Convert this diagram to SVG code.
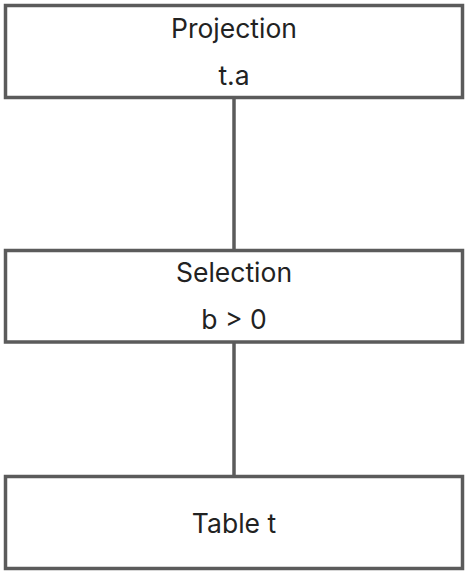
<svg xmlns="http://www.w3.org/2000/svg" width="472" height="576" viewBox="0 0 472 576">
<style>
.box{fill:#ffffff;stroke:#5b5b5b;stroke-width:3.5}
.edge{stroke:#5b5b5b;stroke-width:3.5;fill:none}
.t{font-family:Inter,"Noto Sans",sans-serif;font-size:26.5px;fill:#222222;text-anchor:middle}
</style>
<rect width="472" height="576" fill="#ffffff"/>
<g id="connectors">
<line class="edge" x1="234" y1="98" x2="234" y2="250"/>
<line class="edge" x1="234" y1="342" x2="234" y2="476"/>
</g>
<g id="projection">
<rect class="box" x="5.5" y="5.5" width="457" height="92"/>
<text class="t" x="234" y="38">Projection</text>
<text class="t" x="234" y="85">t.a</text>
</g>
<g id="selection">
<rect class="box" x="5.5" y="250.5" width="457" height="91.5"/>
<text class="t" x="234" y="282">Selection</text>
<text class="t" x="234" y="329">b &gt; 0</text>
</g>
<g id="table">
<rect class="box" x="5.5" y="476.5" width="457" height="92"/>
<text class="t" x="234" y="533">Table t</text>
</g>
</svg>
